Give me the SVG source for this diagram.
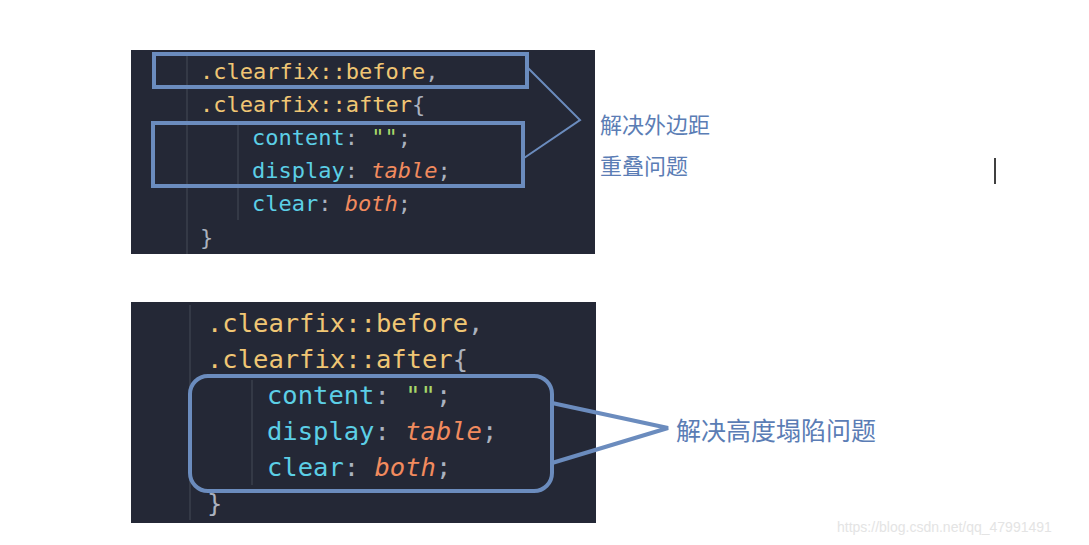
<svg xmlns="http://www.w3.org/2000/svg" width="1089" height="545" viewBox="0 0 1089 545">
<style>
.bg{fill:#242836}
.code{font-family:"DejaVu Sans Mono","Liberation Mono",monospace}
.s{fill:#f0c674}.p{fill:#5ccfe6}.v{fill:#f28b5e;font-style:italic}.g{fill:#abb2bf}.q{fill:#a8d86a}
.guide{stroke:#3a3f4d;stroke-width:1.5}
.hl{fill:none;stroke:#6b8cbe;stroke-width:4}
.lbl{font-family:"Noto Sans CJK SC","Noto Sans",sans-serif;fill:#5b7db5}
</style>
<rect width="1089" height="545" fill="#fff"/>
<g id="panel1">
<rect class="bg" x="131" y="50" width="464" height="204"/>
<line class="guide" x1="187" y1="55" x2="187" y2="254"/>
<line class="guide" x1="238" y1="122" x2="238" y2="220"/>
<g class="code" font-size="22">
<text x="200" y="79"><tspan class="s">.clearfix::before</tspan><tspan class="g">,</tspan></text>
<text x="200" y="112"><tspan class="s">.clearfix::after</tspan><tspan class="g">{</tspan></text>
<text x="252" y="145"><tspan class="p">content</tspan><tspan class="g">: </tspan><tspan class="q">""</tspan><tspan class="g">;</tspan></text>
<text x="252" y="178"><tspan class="p">display</tspan><tspan class="g">: </tspan><tspan class="v">table</tspan><tspan class="g">;</tspan></text>
<text x="252" y="211"><tspan class="p">clear</tspan><tspan class="g">: </tspan><tspan class="v">both</tspan><tspan class="g">;</tspan></text>
<text x="200" y="245" class="g">}</text>
</g>
</g>
<g id="panel2">
<rect class="bg" x="131" y="302" width="465" height="221"/>
<line class="guide" x1="190" y1="305" x2="190" y2="520"/>
<line class="guide" x1="252" y1="380" x2="252" y2="485"/>
<g class="code" font-size="25.5">
<text x="207" y="332"><tspan class="s">.clearfix::before</tspan><tspan class="g">,</tspan></text>
<text x="207" y="368"><tspan class="s">.clearfix::after</tspan><tspan class="g">{</tspan></text>
<text x="267" y="404"><tspan class="p">content</tspan><tspan class="g">: </tspan><tspan class="q">""</tspan><tspan class="g">;</tspan></text>
<text x="267" y="440"><tspan class="p">display</tspan><tspan class="g">: </tspan><tspan class="v">table</tspan><tspan class="g">;</tspan></text>
<text x="267" y="476"><tspan class="p">clear</tspan><tspan class="g">: </tspan><tspan class="v">both</tspan><tspan class="g">;</tspan></text>
<text x="207" y="512" class="g">}</text>
</g>
</g>
<g id="highlights">
<rect class="hl" x="154" y="54" width="373" height="33"/>
<rect class="hl" x="153" y="123" width="370" height="63"/>
<rect class="hl" x="190" y="376" width="362" height="115" rx="18"/>
</g>
<g id="connectors" fill="none" stroke="#6b8cbe">
<polyline points="528,68 580,120 524,158" stroke-width="2"/>
<polyline points="552,403 668,428 552,463" stroke-width="4"/>
</g>
<g id="labels">
<text class="lbl" x="600" y="133" font-size="22">解决外边距</text>
<text class="lbl" x="600" y="174" font-size="22">重叠问题</text>
<text class="lbl" x="676" y="440" font-size="25">解决高度塌陷问题</text>
</g>
<line x1="995" y1="158" x2="995" y2="184" stroke="#000" stroke-width="1.5"/>
<text x="837" y="532" font-family="Liberation Sans,sans-serif" font-size="14" fill="#e4e4e4">https://blog.csdn.net/qq_47991491</text>
</svg>
